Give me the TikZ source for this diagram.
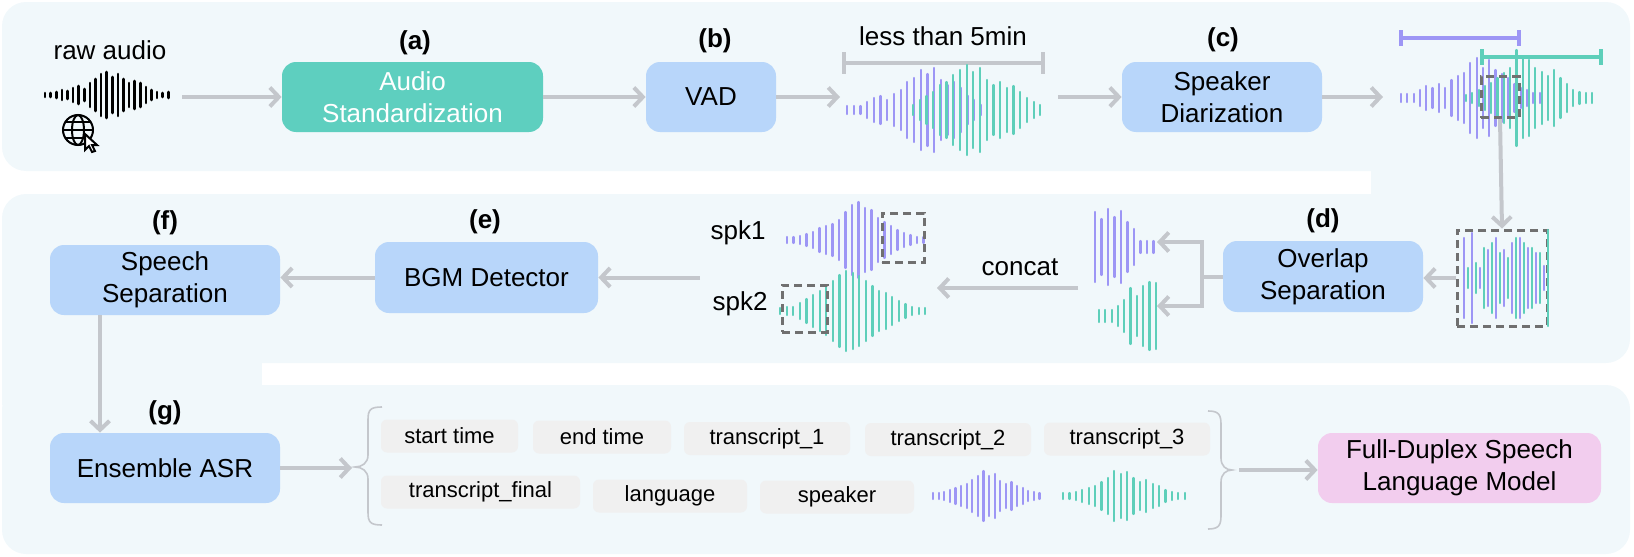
\documentclass[tikz,border=0pt]{standalone}
\usepackage{fontspec}
\setmainfont{Liberation Sans}
\usetikzlibrary{arrows.meta}
\definecolor{bgc}{HTML}{F1F8FB}
\definecolor{bluebox}{HTML}{B8D6FA}
\definecolor{tealbox}{HTML}{5ECFBF}
\definecolor{pinkbox}{HTML}{F2CDEE}
\definecolor{chipc}{HTML}{F0F0F0}
\definecolor{arrc}{HTML}{C4C7CC}
\definecolor{purp}{HTML}{9D96F5}
\definecolor{teal}{HTML}{5ECFBA}
\definecolor{dashc}{HTML}{707070}
\newcommand\wavebars[5]{%
  \foreach \h [count=\i from 0] in {#5} {\draw[#4] ({#1+\i*#3},{#2-\h}) -- ({#1+\i*#3},{#2+\h});}}
\tikzset{
  x=0.5pt,y=-0.5pt,
  box/.style={fill=bluebox,rounded corners=7pt,inner sep=0pt,align=center,font=\fontsize{13}{16}\selectfont},
  chip/.style={fill=chipc,rounded corners=3pt,inner sep=0pt,minimum height=16.5pt,font=\fontsize{11}{13}\selectfont},
  lab/.style={font=\fontsize{13}{16}\selectfont\bfseries},
  txt/.style={font=\fontsize{13}{16}\selectfont},
  arr/.style={draw=arrc,line width=2pt,-{Straight Barb[length=4.5pt,width=9.5pt]}},
  ln/.style={draw=arrc,line width=2pt},
  pw/.style={purp,line width=1.1pt,line cap=round},
  tw/.style={teal,line width=1.1pt,line cap=round},
  kw/.style={black,line width=1.3pt,line cap=round},
  dbox/.style={draw=dashc,line width=1.5pt,dash pattern=on 4pt off 2.5pt},
  brc/.style={draw=arrc,line width=0.8pt},
}
\begin{document}
\begin{tikzpicture}
\useasboundingbox (0,0) rectangle (1634,557);
% panels
\fill[bgc,rounded corners=12pt] (2,2) rectangle (1630,171);
\fill[bgc,rounded corners=12pt] (2,194) rectangle (1630,363);
\fill[bgc,rounded corners=12pt] (2,385) rectangle (1630,554);
\fill[bgc] (1371,150) rectangle (1630,215);
\fill[bgc] (2,340) rectangle (262,405);

% top row
\node[txt] (raw) at (110,50) {raw audio};
\wavebars{45}{95}{5.6}{kw}{2,2,3,5,4,7,9,6,12,16,21,23,18,21,16,12,14,12,8,5,3,2,3}
\coordinate (rawR) at (182,97);
% globe
\begin{scope}[line width=1pt]
\draw (78,130) circle[radius=15];
\draw (78,130) ellipse[x radius=6,y radius=15];
\draw (63,130) -- (93,130);
\draw (65,122) -- (91,122);
\draw (65,138) -- (91,138);
\draw[fill=white] (85,134) -- (85,150) -- (89,146) -- (92,152) -- (95,151) -- (92,145) -- (97,145) -- cycle;
\end{scope}

\node[lab] (la) at (415,43) {(a)};
\node[box,fill=tealbox,text=white,minimum width=130.5pt,minimum height=35pt] (A) at (412.5,97) {Audio\\Standardization};
\node[lab] (lb) at (715,41) {(b)};
\node[box,minimum width=65pt,minimum height=35pt] (V) at (711,97) {VAD};
\node[txt] (l5) at (943,36) {less than 5min};
\draw[ln] (844,63) -- (1043,63);
\draw[ln] (844,52) -- (844,74);
\draw[ln] (1043,52) -- (1043,74);
\wavebars{847}{110}{6.7}{pw}{4,4,4,8,12,14,10,16,20,28,32,40,36,42,30,25,28,22,14,10,5}
\wavebars{913}{110}{6.7}{tw}{5,10,14,18,25,28,35,40,45,38,42,30,25,28,22,24,18,12,8,5}
\coordinate (vwL) at (840,97);
\coordinate (vwR) at (1058,97);
\node[lab] (lc) at (1223,40) {(c)};
\node[box,minimum width=100pt,minimum height=35pt] (S) at (1222,97) {Speaker\\Diarization};
\draw[line width=2pt,purp] (1401,38) -- (1519,38) (1401,30) -- (1401,46) (1519,30) -- (1519,46);
\draw[line width=2pt,teal] (1482,57) -- (1601,57) (1482,49) -- (1482,65) (1601,49) -- (1601,65);
\wavebars{1401}{98}{6.3}{pw}{4,4,4,8,12,10,14,10,18,22,25,35,40,30,38,28,24,20,14,10,8,5,5}
\wavebars{1466}{98}{6.3}{tw}{3,5,8,12,15,20,25,30,48,40,38,30,26,22,28,20,14,8,6,5,5}
\node[dbox,minimum width=19pt,minimum height=20.5pt,inner sep=0pt] (ov) at (1500,97) {};
\coordinate (dL) at (1383,97);

\draw[arr] (rawR) -- (A.west);
\draw[arr] (A.east) -- (V.west);
\draw[arr] (V.east) -- (vwL);
\draw[arr] (vwR) -- (S.west);
\draw[arr] (S.east) -- (dL);

% middle row
\node[dbox,minimum width=45pt,minimum height=48pt,inner sep=0pt] (big) at (1502,278) {};
\wavebars{1464}{278}{8}{pw}{40,45,10,28,40,28,35,40,30,25,12}
\wavebars{1468}{278}{8}{tw}{10,15,30,35,25,20,40,35,30,25,48}
\draw[arr] (ov.south) -- (big.north);
\node[lab] (ld) at (1323,221) {(d)};
\node[box,minimum width=100pt,minimum height=35.5pt] (O) at (1323,276.5) {Overlap\\Separation};
\draw[arr] (big.west) -- (O.east |- big.west);
\coordinate (fk) at (1202,276.5);
\coordinate (s1R) at (1157,242);
\coordinate (s2R) at (1157,306);
\draw[ln] (O.west) -- (fk);
\draw[arr] (fk) |- (s1R);
\draw[arr] (fk) |- (s2R);
\wavebars{1095}{247}{6.5}{pw}{35,28,38,30,36,25,18,6,6,6}
\wavebars{1099}{316}{6.3}{tw}{6,6,6,10,16,28,20,30,34,33}
\node[txt] (cc) at (1020,267) {concat};
\coordinate (cR) at (1078,288);
\coordinate (cL) at (937,288);
\draw[arr] (cR) -- (cL);
\node[txt] (sp1) at (738,233) {spk1};
\node[txt] (sp2) at (740,304) {spk2};
\wavebars{787}{240}{6.5}{pw}{3,3,4,6,8,12,14,16,20,28,35,38,32,30,22,18,14,10,7,5,3,3}
\wavebars{780}{311}{6.6}{tw}{3,4,4,8,12,16,20,24,30,36,40,38,35,30,25,20,18,14,10,7,4,3,3}
\node[dbox,minimum width=21pt,minimum height=24.5pt,inner sep=0pt] (b1) at (903,237.5) {};
\node[dbox,minimum width=22.5pt,minimum height=23.5pt,inner sep=0pt] (b2) at (804.5,308.5) {};
\coordinate (spL) at (700,277.5);
\node[lab] (le) at (485,222) {(e)};
\node[box,minimum width=111.5pt,minimum height=35.5pt] (B) at (486.5,277.5) {BGM Detector};
\node[lab] (lf) at (165,223) {(f)};
\node[box,minimum width=115pt,minimum height=35pt] (SS) at (165,280) {Speech\\Separation};
\draw[arr] (spL) -- (B.east);
\draw[arr] (B.west) -- (SS.east |- B.west);

% bottom row
\node[lab] (lg) at (165,413) {(g)};
\node[box,minimum width=115pt,minimum height=35pt] (E) at (165,468) {Ensemble ASR};
\draw[arr] ([xshift=-32.5pt]SS.south) -- ([xshift=-32.5pt]E.north);
\coordinate (lbT) at (352,468);
\draw[arr] (E.east) -- (lbT);
\draw[brc] (382,407) .. controls (370,407) and (368,410) .. (368,420) -- (368,455) .. controls (368,463) and (362,467) .. (355,467) .. controls (362,467) and (368,471) .. (368,479) -- (368,512) .. controls (368,522) and (370,525) .. (382,525);
\draw[brc] (1208,411) .. controls (1218,411) and (1221,414) .. (1221,424) -- (1221,458) .. controls (1221,466) and (1226,470) .. (1232,470) .. controls (1226,470) and (1221,474) .. (1221,482) -- (1221,516) .. controls (1221,526) and (1218,529) .. (1208,529);
\node[chip,minimum width=68.5pt] (c1) at (449.5,436) {start time};
\node[chip,minimum width=69pt] (c2) at (602,437) {end time};
\node[chip,minimum width=83pt] (c3) at (767,438.5) {transcript\_1};
\node[chip,minimum width=83pt] (c4) at (948,439.5) {transcript\_2};
\node[chip,minimum width=83pt] (c5) at (1127,439) {transcript\_3};
\node[chip,minimum width=99.5pt] (c6) at (480.5,492) {transcript\_final};
\node[chip,minimum width=77pt] (c7) at (670,496) {language};
\node[chip,minimum width=77pt] (c8) at (837,497) {speaker};
\wavebars{933}{496}{5.6}{pw}{3,3,4,6,8,10,12,16,20,25,20,22,15,12,14,10,8,5,4,3}
\wavebars{1063}{496}{6.4}{tw}{3,3,4,6,8,10,14,18,25,22,24,18,14,16,12,10,6,4,3,3}
\coordinate (rbT) at (1239,470);
\node[box,fill=pinkbox,minimum width=141.5pt,minimum height=35pt] (FD) at (1459.5,468) {Full-Duplex Speech\\Language Model};
\draw[arr] (rbT) -- (FD.west |- rbT);
\end{tikzpicture}
\end{document}
